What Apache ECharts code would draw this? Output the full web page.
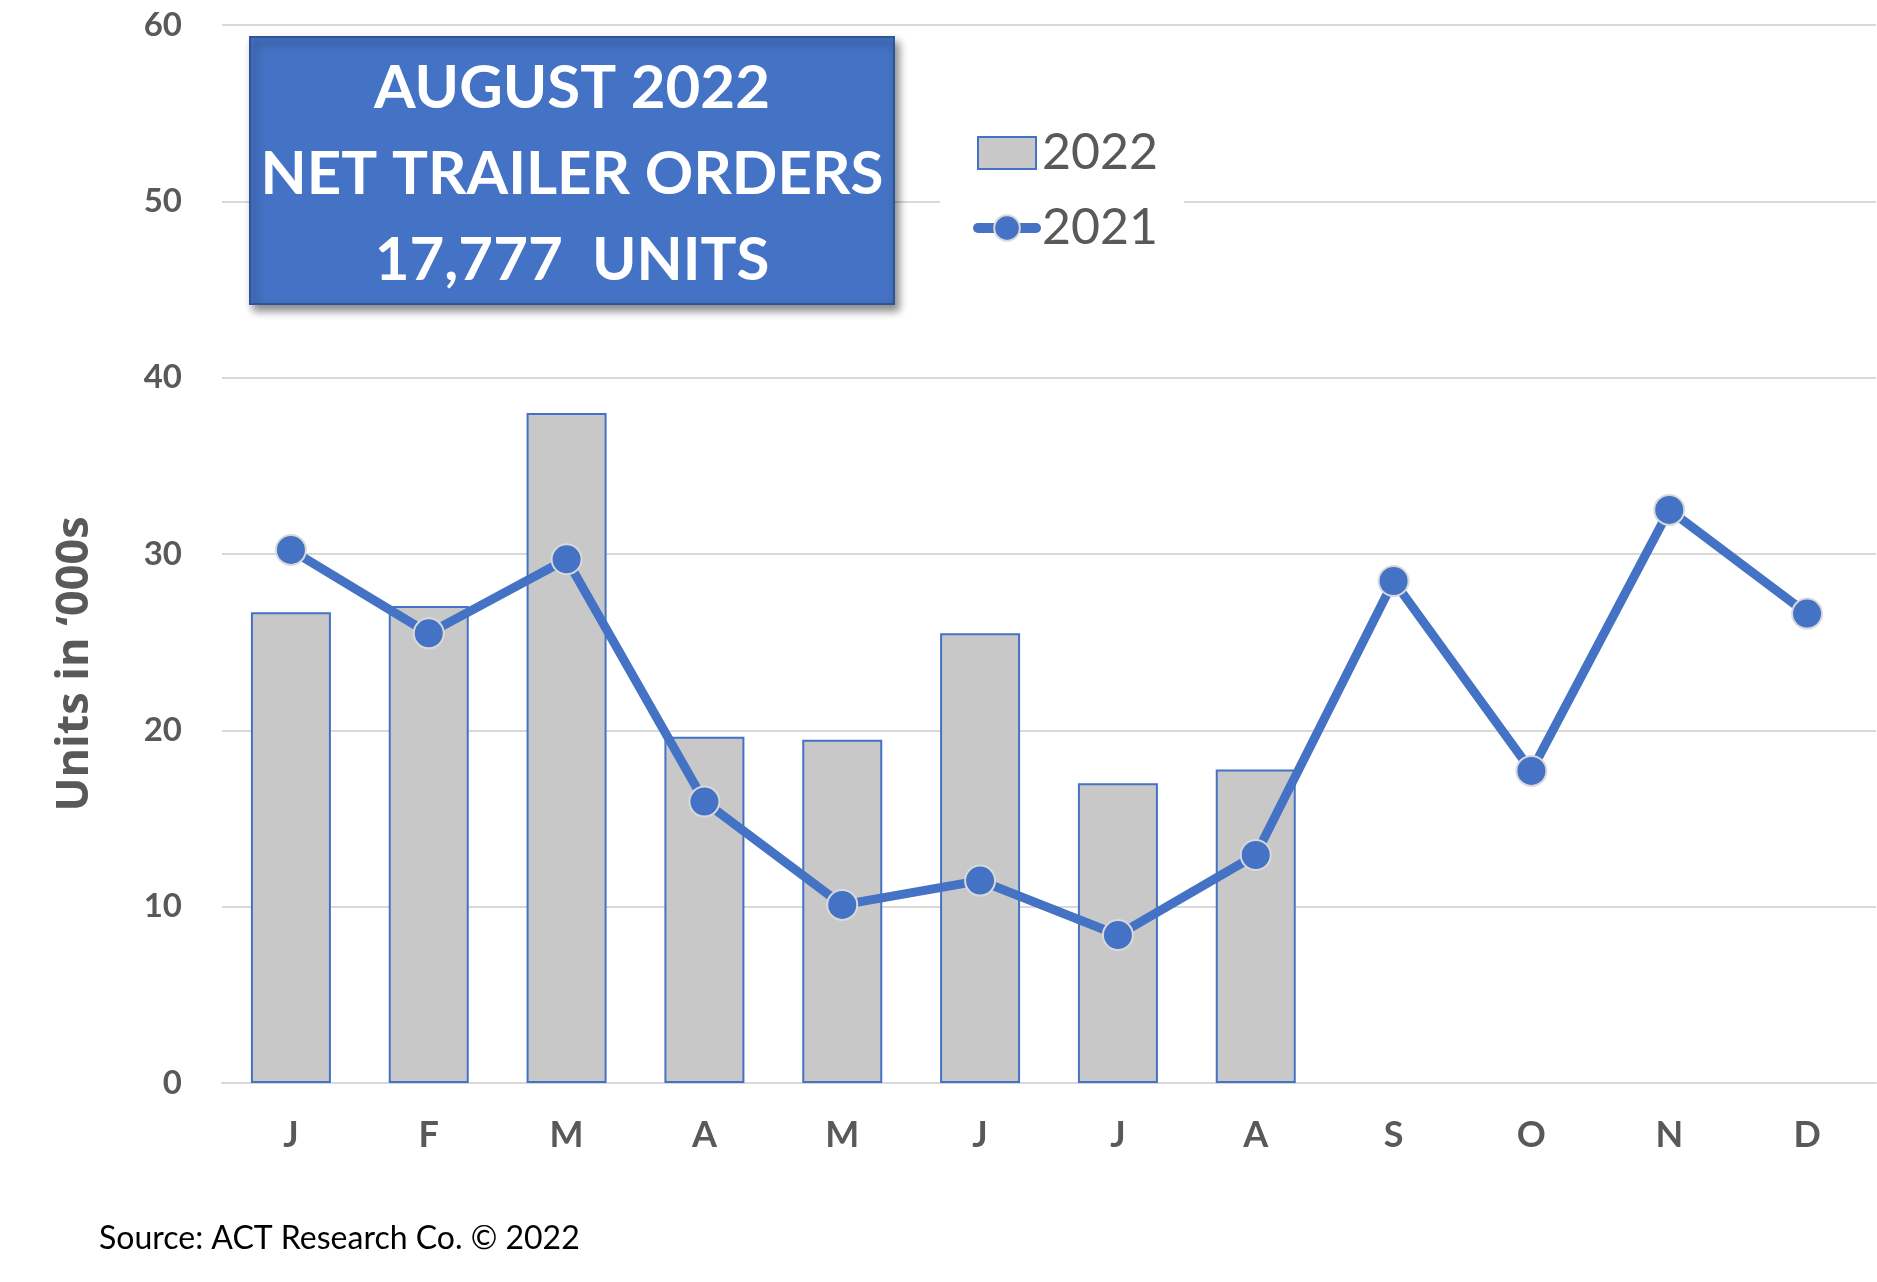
<!DOCTYPE html>
<html>
<head>
<meta charset="utf-8">
<script src="https://cdn.jsdelivr.net/npm/echarts@6/dist/echarts.min.js"></script>
<style>
html,body{margin:0;padding:0;background:#fff;}
#chart{width:1877px;height:1282px;}
</style>
</head>
<body>
<div id="chart"></div>
<script>
const months = ['J','F','M','A','M','J','J','A','S','O','N','D'];
const orders2022 = [26.7, 27.05, 38.0, 19.64, 19.46, 25.5, 17.0, 17.777];
const orders2021 = [30.23, 25.5, 29.7, 15.96, 10.1, 11.48, 8.39, 12.93, 28.47, 17.7, 32.5, 26.62];
const yTicks = { min: 0, max: 60, interval: 10 };
const titleLines = ['AUGUST 2022', 'NET TRAILER ORDERS', '17,777  UNITS'];
const sourceText = 'Source: ACT Research Co. \u00A9 2022';
const yAxisTitle = 'Units in \u2018000s';

const BLUE = '#4472C4';
const GRAY_TXT = '#595959';
const FONT = 'Lato, "Open Sans", sans-serif';

const chart = echarts.init(document.getElementById('chart'));
chart.setOption({
  backgroundColor: '#ffffff',
  animation: false,
  textStyle: { fontFamily: FONT },
  grid: { left: 222, right: 1, top: 25, bottom: 199, containLabel: false },
  legend: {
    orient: 'vertical',
    left: 940,
    top: 118,
    padding: [10, 26, 10, 33],
    backgroundColor: '#ffffff',
    itemWidth: 58,
    itemHeight: 32,
    itemGap: 25,
    lineStyle: { width: 10, color: BLUE, cap: 'round' },
    data: [{ name: '2022', icon: 'rect' }, { name: '2021' }],
    textStyle: { fontSize: 50, color: GRAY_TXT, fontFamily: FONT, padding: [0, 0, 0, 1] }
  },
  xAxis: {
    type: 'category',
    data: months,
    axisTick: { show: false },
    axisLine: { show: true, lineStyle: { color: '#D9D9D9', width: 2 } },
    axisLabel: { fontSize: 36, fontWeight: 'bold', color: GRAY_TXT, margin: 34, fontFamily: FONT }
  },
  yAxis: {
    type: 'value',
    min: yTicks.min, max: yTicks.max, interval: yTicks.interval,
    axisLine: { show: false },
    axisTick: { show: false },
    splitLine: { lineStyle: { color: '#D9D9D9', width: 2 } },
    axisLabel: { fontSize: 33, fontWeight: 'bold', color: GRAY_TXT, margin: 40, fontFamily: FONT },
    name: yAxisTitle,
    nameLocation: 'middle',
    nameGap: 124,
    nameTextStyle: { fontSize: 45, fontWeight: 'bold', color: GRAY_TXT, fontFamily: '"Open Sans", sans-serif', padding: [0, 220, 0, 0] }
  },
  series: [
    {
      name: '2022',
      type: 'bar',
      data: orders2022,
      barWidth: 80,
      itemStyle: { color: '#C8C8C8', borderColor: BLUE, borderWidth: 2 }
    },
    {
      name: '2021',
      type: 'line',
      data: orders2021,
      symbol: 'circle',
      symbolSize: 30,
      lineStyle: { color: BLUE, width: 9 },
      itemStyle: { color: BLUE, borderColor: '#D9D9D9', borderWidth: 2 },
      z: 5
    }
  ],
  graphic: [
    {
      type: 'rect',
      z: 100,
      shape: { x: 250, y: 37, width: 644, height: 267 },
      style: {
        fill: BLUE, stroke: '#2F5597', lineWidth: 2,
        shadowBlur: 8, shadowOffsetX: 4, shadowOffsetY: 6, shadowColor: 'rgba(0,0,0,0.45)'
      }
    },
    {
      type: 'text',
      z: 101,
      x: 572,
      y: 175,
      style: {
        text: titleLines.join('\n'),
        fill: '#ffffff',
        font: 'bold 60px ' + FONT,
        align: 'center',
        verticalAlign: 'middle',
        lineHeight: 86
      }
    },
    {
      type: 'text',
      z: 101,
      x: 99,
      y: 1239,
      style: {
        text: sourceText,
        fill: '#000000',
        font: '32px ' + FONT,
        align: 'left',
        verticalAlign: 'middle'
      }
    }
  ]
});
</script>
</body>
</html>
